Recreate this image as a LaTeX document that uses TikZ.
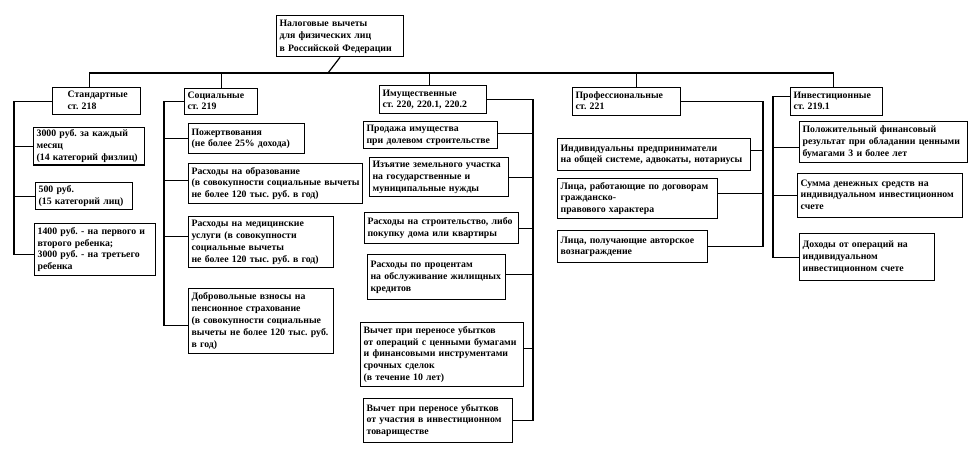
\documentclass[tikz,border=0pt]{standalone}
\usepackage{fontspec}
\setmainfont{Liberation Serif}
\frenchspacing
\tikzset{
  box/.style={draw, line width=1.2pt, anchor=north west, align=left,
    inner xsep=3pt, inner ysep=1pt,
    font=\bfseries\fontsize{9.8}{11.8}\selectfont},
  conn/.style={line width=1.2pt}
}
\newcommand\bx[7][]{\node[box, text width=#5pt, minimum height=#6pt, #1] (#2) at (#3,#4) {\frenchspacing\begin{tabular}{@{}l@{}}#7\end{tabular}};}
\begin{document}
\begin{tikzpicture}[x=1pt,y=-1pt]
\useasboundingbox (0,0) rectangle (975,450);
% top
\bx[font=\bfseries\fontsize{9.8}{12.5}\selectfont]{top}{276}{15}{121}{41}{Налоговые вычеты\\для физических лиц\\в Российской Федерации}
% categories
\bx[inner xsep=3pt]{std}{52}{87}{82}{27}{\hspace*{12pt}Стандартные\\\hspace*{12pt}ст. 218}
\bx{soc}{184}{88}{67}{26}{Социальные\\ст. 219}
\bx{im}{379}{85}{101}{28}{Имущественные\\ст. 220, 220.1, 220.2}
\bx{prof}{572}{87}{102}{28}{Профессиональные\\ст. 221}
\bx{inv}{790}{87}{86}{28}{Инвестиционные\\ст. 219.1}
% standard
\bx{s1}{33}{127}{105}{36}{3000 руб. за каждый\\месяц\\(14 категорий физлиц)}
\bx{s2}{35}{182}{91}{27}{500 руб.\\(15 категорий лиц)}
\bx{s3}{34}{223}{115}{52}{1400 руб. - на первого и\\второго ребенка;\\3000 руб. - на третьего\\ребенка}
% social
\bx{p1}{188}{123}{110}{30}{Пожертвования\\(не более 25\% дохода)}
\bx{p2}{188}{163}{168}{40}{Расходы на образование\\(в совокупности социальные вычеты\\не более 120 тыс. руб. в год)}
\bx{p3}{188}{216}{139}{51}{Расходы на медицинские\\услуги (в совокупности\\социальные вычеты\\не более 120 тыс. руб. в год)}
\bx{p4}{188}{288}{139}{65}{Добровольные взносы на\\пенсионное страхование\\(в совокупности социальные\\вычеты не более 120 тыс. руб.\\в год)}
% property
\bx{i1}{363}{121}{128}{27}{Продажа имущества\\при долевом строительстве}
\bx{i2}{369}{157}{133}{39}{Изъятие земельного участка\\на государственные и\\муниципальные нужды}
\bx{i3}{364}{212}{148}{31}{Расходы на строительство, либо\\покупку дома или квартиры}
\bx{i4}{367}{254}{132}{45}{Расходы по процентам\\на обслуживание жилищных\\кредитов}
\bx{i5}{360}{322}{157}{64}{Вычет при переносе убытков\\от операций с ценными бумагами\\и финансовыми инструментами\\срочных сделок\\(в течение 10 лет)}
\bx{i6}{363}{398}{143}{44}{Вычет при переносе убытков\\от участия в инвестиционном\\товариществе}
% professional
\bx{r1}{557}{138}{187}{32}{Индивидуальны предприниматели\\на общей системе, адвокаты, нотариусы}
\bx{r2}{557}{178}{154}{40}{Лица, работающие по договорам\\гражданско-\\правового характера}
\bx{r3}{557}{230}{144}{32}{Лица, получающие авторское\\вознаграждение}
% investment
\bx{v1}{799}{121}{162}{41}{Положительный финансовый\\результат при обладании ценными\\бумагами 3 и более лет}
\bx{v2}{797}{173}{159}{44}{Сумма денежных средств на\\индивидуальном инвестиционном\\счете}
\bx{v3}{799}{233}{129}{47}{Доходы от операций на\\индивидуальном\\инвестиционном счете}
% bus
\coordinate (bus) at (328,73);
\draw[conn] (top.south) -- (bus);
\draw[conn] ([xshift=-7pt]std.north) |- (bus);
\draw[conn] (soc.north) |- (bus);
\draw[conn] ([xshift=-4pt]im.north) |- (bus);
\draw[conn] ([xshift=10pt]prof.north) |- (bus);
\draw[conn] ([xshift=-3pt]inv.north) |- (bus);
% standard branch
\coordinate (sx) at (14,0);
\draw[conn] (std.west) -- (std.west -| sx) |- ([yshift=-5pt]s3.west);
\draw[conn] (s1.west) -- (s1.west -| sx);
\draw[conn] (s2.west) -- (s2.west -| sx);
% social branch
\coordinate (sc) at (164,0);
\draw[conn] (soc.west) -- (soc.west -| sc) |- ([yshift=-4pt]p4.west);
\draw[conn] (p1.west) -- (p1.west -| sc);
\draw[conn] ([yshift=3pt]p2.west) -- ([yshift=3pt]p2.west -| sc);
\draw[conn] ([yshift=6pt]p3.west) -- ([yshift=6pt]p3.west -| sc);
% property branch
\coordinate (ic) at (533,0);
\draw[conn] (im.east) -- (im.east -| ic) |- (i6.east);
\draw[conn] ([yshift=2pt]i1.east) -- ([yshift=2pt]i1.east -| ic);
\draw[conn] (i2.east) -- (i2.east -| ic);
\draw[conn] (i3.east) -- (i3.east -| ic);
\draw[conn] ([yshift=3pt]i4.east) -- ([yshift=3pt]i4.east -| ic);
\draw[conn] ([yshift=6pt]i5.east) -- ([yshift=6pt]i5.east -| ic);
% professional branch
\coordinate (pc) at (763,0);
\draw[conn] (prof.east) -- (prof.east -| pc) |- (r3.east);
\draw[conn] ([yshift=4pt]r1.east) -- ([yshift=4pt]r1.east -| pc);
\draw[conn] ([yshift=5pt]r2.east) -- ([yshift=5pt]r2.east -| pc);
% investment branch
\coordinate (vc) at (773,0);
\draw[conn] ([yshift=5pt]inv.west) -- ([yshift=5pt]inv.west -| vc) |- (v3.west);
\draw[conn] ([yshift=-5pt]v1.west) -- ([yshift=-5pt]v1.west -| vc);
\draw[conn] (v2.west) -- (v2.west -| vc);
\end{tikzpicture}
\end{document}
